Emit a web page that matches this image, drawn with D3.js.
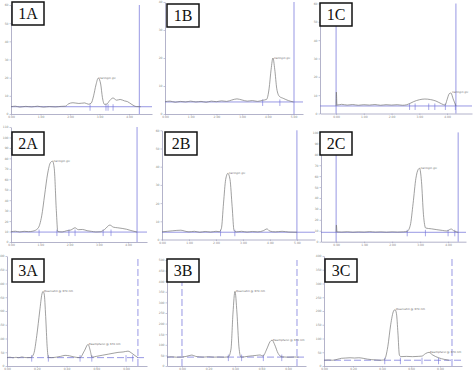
<!DOCTYPE html>
<html>
<head>
<meta charset="utf-8">
<script src="https://cdn.jsdelivr.net/npm/d3@7/dist/d3.min.js"></script>
<style>
  body { margin: 0; background: #fff; }
  svg { display: block; }
</style>
</head>
<body>
<svg id="svg"></svg>
<script>
var larghezza = 474;
var altezza = 372;

// ---- data: [time, response] ----
var curve1A = [[0,4.0],[0.15,4.3],[0.3,3.8],[0.5,4.2],[0.7,3.9],[0.9,4.3],[1.1,3.8],[1.3,4.1],[1.5,3.9],[1.7,4.2],[1.85,4.3],[1.95,5.6],[2.1,6.2],[2.3,5.8],[2.5,6.1],[2.62,5.4],[2.72,6.0],[2.8,10],[2.88,16],[2.96,19.8],[3.04,16.5],[3.1,9],[3.17,5.3],[3.25,5.5],[3.35,7.5],[3.46,8.8],[3.58,7.6],[3.7,8.0],[3.85,7.2],[3.95,6.8],[4.1,5.2],[4.25,4.1],[4.4,4.0]];
var curve1B = [[0,4.4],[0.2,4.6],[0.4,4.2],[0.6,4.5],[0.8,4.3],[1.0,4.6],[1.2,4.3],[1.4,4.5],[1.6,4.2],[1.8,4.6],[2.0,4.4],[2.2,4.7],[2.4,4.5],[2.6,5.0],[2.8,5.4],[3.0,5.0],[3.2,4.6],[3.4,4.8],[3.6,4.5],[3.8,4.9],[3.95,5.2],[4.05,9],[4.13,16],[4.2,20],[4.27,16],[4.35,9],[4.45,6.3],[4.6,5.6],[4.8,4.8],[5.0,4.3]];
var curve1C = [[0,4.1],[0.01,11.7],[0.03,4.6],[0.2,5.0],[0.4,4.6],[0.6,4.9],[0.8,4.5],[1.0,4.8],[1.2,4.6],[1.4,4.9],[1.6,4.5],[1.8,4.8],[2.0,4.6],[2.2,4.8],[2.4,4.5],[2.55,4.8],[2.65,5.4],[2.8,6.5],[3.0,7.5],[3.2,7.9],[3.4,7.6],[3.6,6.8],[3.8,5.3],[3.93,4.6],[4.0,7.5],[4.08,10.8],[4.14,11.2],[4.22,8],[4.32,4.1]];
var curve2A = [[0,9.8],[0.15,10.3],[0.3,9.6],[0.45,10.2],[0.6,9.9],[0.75,10.4],[0.92,13],[1.05,25],[1.15,45],[1.25,65],[1.35,76],[1.42,77.3],[1.48,70],[1.55,30],[1.6,10],[1.75,9.6],[1.9,10.8],[2.05,11.5],[2.19,13.6],[2.3,11.8],[2.45,12],[2.6,10.8],[2.75,10.2],[2.9,9.6],[3.05,9.8],[3.2,12],[3.38,16.2],[3.5,14.2],[3.65,13.6],[3.8,13],[3.95,12.2],[4.1,11],[4.31,9.5]];
var curve2B = [[0,4.2],[0.2,4.5],[0.4,4.8],[0.55,5.0],[0.7,5.1],[0.85,4.6],[1.0,4.2],[1.2,4.5],[1.4,4.0],[1.6,4.4],[1.8,4.1],[2.0,4.5],[2.12,4.3],[2.2,6],[2.28,20],[2.36,33],[2.44,36.3],[2.52,33],[2.6,18],[2.67,5],[2.75,4.2],[2.95,4.5],[3.15,4.1],[3.35,4.4],[3.55,4.2],[3.75,4.8],[3.89,5.8],[4.0,4.6],[4.2,4.2],[4.45,4.5],[4.7,4.1],[5.0,4.0]];
var curve2C = [[0,8.6],[0.01,15.3],[0.03,9.0],[0.2,8.8],[0.4,9.1],[0.6,8.7],[0.8,9.0],[1.0,8.8],[1.2,9.2],[1.4,8.8],[1.6,9.0],[1.8,8.7],[2.0,9.0],[2.2,8.8],[2.4,9.0],[2.54,9.5],[2.65,15],[2.75,35],[2.85,58],[2.93,66],[2.98,67.2],[3.05,55],[3.12,25],[3.2,12.5],[3.4,11.8],[3.6,11],[3.8,10.3],[3.96,9.8],[4.05,11],[4.11,11.6],[4.2,10],[4.36,8.6]];
var curve3A = [[0,30.4],[0.02,32],[0.04,30],[0.06,31.5],[0.08,30.2],[0.1,33],[0.12,30.8],[0.14,30.5],[0.16,31],[0.18,45],[0.2,110],[0.22,200],[0.235,262],[0.242,271],[0.25,262],[0.26,180],[0.27,70],[0.278,31],[0.3,30.5],[0.33,32],[0.36,35],[0.39,38.7],[0.42,37],[0.45,33],[0.49,30.4],[0.52,55],[0.545,78.4],[0.56,55],[0.571,32],[0.6,35],[0.64,39],[0.68,43],[0.72,47],[0.746,49.5],[0.78,51],[0.813,54],[0.84,46],[0.86,38],[0.88,30.4]];
var curve3B = [[-0.113,42],[-0.08,43.5],[-0.04,41.5],[0,42.5],[0.03,45],[0.06,50],[0.075,51.6],[0.1,46],[0.13,43],[0.16,42],[0.2,43.5],[0.24,41.8],[0.28,42.5],[0.32,41.5],[0.35,43],[0.37,80],[0.385,250],[0.4,352],[0.415,250],[0.43,90],[0.445,42],[0.47,43],[0.5,46],[0.53,48],[0.56,50],[0.59,52],[0.611,47],[0.64,80],[0.665,115],[0.68,122],[0.7,100],[0.725,60],[0.755,43],[0.8,41.5],[0.85,42.5],[0.88,42]];
var curve3C = [[0,21],[0.03,22],[0.06,21],[0.09,24],[0.12,28],[0.15,29],[0.18,30],[0.21,29],[0.24,30],[0.27,28],[0.3,25],[0.33,23],[0.36,22],[0.39,21],[0.415,22],[0.44,70],[0.46,150],[0.48,200],[0.49,205],[0.5,190],[0.51,120],[0.52,40],[0.53,34],[0.57,35],[0.61,34],[0.65,35],[0.676,36],[0.7,45],[0.724,49.5],[0.75,40],[0.79,30],[0.83,24],[0.862,21]];

// baseline level, run markers, integration ticks
var base = { "1A":4, "1B":4.3, "1C":4.1, "2A":9.5, "2B":4.0, "2C":8.6, "3A":30.4, "3B":42, "3C":21 };
var markers = { "1A":[4.35], "1B":[5.02], "1C":[0,4.32], "2A":[4.31], "2B":[5.0], "2C":[0,4.36], "3A":[0.88], "3B":[0,0.868], "3C":[0.883] };
var integ = { "1A":[2.68,3.22,3.29,3.46], "1B":[3.8,4.47], "1C":[2.65,2.85,3.34,3.56,3.94,4.3],
              "2A":[0.96,1.57,1.98,2.19,3.15,3.42], "2B":[2.17,2.7], "2C":[2.54,3.19,4.0,4.24],
              "3A":[0.166,0.278,0.491,0.57,0.80,0.845], "3B":[0.35,0.45,0.614,0.753], "3C":[0.419,0.527,0.676,0.79] };

// peak labels [time, response, name]
var peaks = {
  "1A": [[2.96,19.8,"naringin glc"]],
  "1B": [[4.2,20,"naringin glc"]],
  "1C": [[4.14,11.8,"naringin glc"]],
  "2A": [[1.42,77.3,"naringin glc"]],
  "2B": [[2.44,36.3,"naringin glc"]],
  "2C": [[2.98,67.2,"naringin glc"]],
  "3A": [[0.242,271,"Quercetin @ 370 nm"],[0.545,78.4,"Kaempferol @ 370 nm"]],
  "3B": [[0.4,352,"Quercetin @ 370 nm"],[0.68,122,"Kaempferol @ 370 nm"]],
  "3C": [[0.49,205,"Quercetin @ 370 nm"],[0.724,49.5,"Kaempferol @ 370 nm"]]
};

var xTicksMin = [0,1,2,3,4];
var xTicksMin5 = [0,1,2,3,4,5];
var xTicksRow3 = [0,0.2,0.4,0.6,0.8];
var yTicks40 = [0,10,20,30,40];
var yTicks60 = [0,10,20,30,40,50,60];
var yTicks100 = d3.range(0,101,10);
var yTicks110 = d3.range(0,111,10);
var yTicks400 = d3.range(0,401,50);
var yTicks500 = d3.range(0,501,50);

// ---- panel layout ----
var panels = [
  {id:"1A", curve:curve1A, left:11,  right:152, top:5,     bottom:114,   xd:[0,4.78],      yd:[0,60],  xt:xTicksMin,  yt:yTicks60,  box:[12,2],    dash:false},
  {id:"1B", curve:curve1B, left:165, right:303, top:2,     bottom:114,   xd:[0,5.37],      yd:[0,40],  xt:xTicksMin5, yt:yTicks40,  box:[167,4],   dash:false},
  {id:"1C", curve:curve1C, left:320, right:472, top:3.5,   bottom:113.5, xd:[-0.58,4.9],   yd:[0,60],  xt:xTicksMin,  yt:yTicks60,  box:[320,3],   dash:false},
  {id:"2A", curve:curve2A, left:11,  right:147, top:127,   bottom:242,   xd:[0,4.65],      yd:[0,110], xt:xTicksMin,  yt:yTicks110, box:[12,132],  dash:false},
  {id:"2B", curve:curve2B, left:162, right:315, top:130.3, bottom:239.5, xd:[0,5.67],      yd:[0,60],  xt:xTicksMin5, yt:yTicks60,  box:[165,132], dash:false},
  {id:"2C", curve:curve2C, left:321, right:466, top:132.4, bottom:241.7, xd:[-0.54,4.64],  yd:[0,100], xt:xTicksMin,  yt:yTicks100, box:[320,132], dash:false},
  {id:"3A", curve:curve3A, left:7,   right:147, top:256,   bottom:366,   xd:[0,0.941],     yd:[0,400], xt:xTicksRow3, yt:yTicks400, box:[12,259],  dash:true},
  {id:"3B", curve:curve3B, left:167, right:306, top:260,   bottom:366,   xd:[-0.113,0.936],yd:[0,500], xt:xTicksRow3, yt:yTicks500, box:[167,259], dash:true},
  {id:"3C", curve:curve3C, left:324, right:462, top:256,   bottom:366,   xd:[0,0.952],     yd:[0,400], xt:xTicksRow3, yt:yTicks400, box:[325,259], dash:true}
];

var blu = "#6c6cd8";
var axisCol = "#a0a0bc";

function draw() {
    var svg = d3.select("#svg");
    svg.attr("width", larghezza).attr("height", altezza);
    svg.append("rect").attr("width", larghezza).attr("height", altezza).attr("fill", "#fff");

    panels.forEach(function (p) {
        drawPanel(svg, p);
    });
}

function drawPanel(svg, p) {
    var x = d3.scaleLinear().domain(p.xd).range([p.left, p.right]);
    var y = d3.scaleLinear().domain(p.yd).range([p.bottom, p.top]);
    var g = svg.append("g").attr("id", "panel" + p.id);

    var ax = g.append("g")
        .attr("transform", "translate(0," + p.bottom + ")")
        .call(d3.axisBottom(x).tickValues(p.xt).tickSize(1.5).tickPadding(0.6).tickSizeOuter(0).tickFormat(d3.format(".2f")));
    var ay = g.append("g")
        .attr("transform", "translate(" + p.left + ",0)")
        .call(d3.axisLeft(y).tickValues(p.yt).tickSize(1.5).tickPadding(1).tickSizeOuter(0));
    [ax, ay].forEach(function (a) {
        a.select(".domain").attr("stroke", axisCol).attr("stroke-width", 0.8);
        a.selectAll(".tick line").attr("stroke", axisCol).attr("stroke-width", 0.6);
        a.selectAll(".tick text").attr("fill", "#888").style("font-size", "3px").style("font-family", "DejaVu Sans");
    });

    var yb = y(base[p.id]);
    var dashArr = p.dash ? "7,3" : null;

    // baseline
    g.append("path")
        .attr("d", "M" + p.left + " " + yb + " L" + p.right + " " + yb)
        .style("stroke", blu).style("stroke-width", "0.7px")
        .style("stroke-dasharray", dashArr);

    // run markers
    markers[p.id].forEach(function (t) {
        g.append("path")
            .attr("d", "M" + x(t) + " " + p.bottom + " L" + x(t) + " " + p.top)
            .style("stroke", blu).style("stroke-width", "0.7px")
            .style("stroke-dasharray", dashArr);
    });

    // integration ticks
    integ[p.id].forEach(function (t) {
        g.append("path")
            .attr("d", "M" + x(t) + " " + (yb - 2.5) + " L" + x(t) + " " + (yb + 4))
            .style("stroke", blu).style("stroke-width", "0.6px");
    });

    // trace
    var line = d3.line()
        .x(function (d) { return x(d[0]); })
        .y(function (d) { return y(d[1]); })
        .curve(d3.curveMonotoneX);
    g.append("path")
        .datum(p.curve)
        .attr("d", line)
        .style("fill", "none")
        .style("stroke", "#777")
        .style("stroke-width", "0.7px");

    // peak labels
    peaks[p.id].forEach(function (k) {
        g.append("text")
            .attr("x", x(k[0]) + 1)
            .attr("y", y(k[1]) + 0.8)
            .style("font-family", "DejaVu Sans")
            .style("font-size", "2.8px")
            .style("fill", "#666")
            .text(k[2]);
    });

    // panel label box
    g.append("rect")
        .attr("x", p.box[0]).attr("y", p.box[1])
        .attr("width", 32).attr("height", 23)
        .style("fill", "#fff")
        .style("stroke", "#111")
        .style("stroke-width", "1.5px");
    g.append("text")
        .attr("x", p.box[0] + 16).attr("y", p.box[1] + 17)
        .attr("text-anchor", "middle")
        .style("font-family", "Liberation Serif")
        .style("font-size", "16px")
        .style("fill", "#111")
        .text(p.id);
}

draw();
</script>
</body>
</html>
